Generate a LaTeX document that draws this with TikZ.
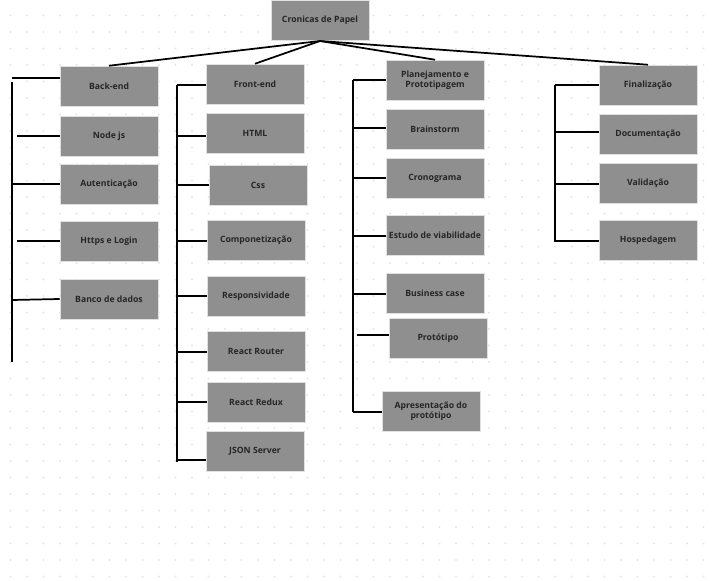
\documentclass[tikz,border=0pt]{standalone}
\usepackage{fontspec}
\setmainfont{Open Sans}
\tikzset{
  box/.style={draw=black!12,fill=black!44,minimum width=73.5pt,minimum height=30pt,inner sep=1pt,
    font=\fontsize{6.5}{7.5}\selectfont\bfseries,align=center,text=black!85},
  link/.style={line width=1.3pt},
}
\begin{document}
\begin{tikzpicture}[x=0.75pt,y=-0.75pt]
  \useasboundingbox (0,0) rectangle (714,581);
  \foreach \x in {0,...,42} \foreach \y in {1,...,35}
    \fill[black!10] (10.5+\x*16.5,\y*16.5-1) circle (0.8pt);
  % root
  \node[box] (root) at (320,20) {Cronicas de Papel};
  % back-end
  \node[box] (back) at (109,86) {Back-end};
  \node[box] (node) at (109,136) {Node js};
  \node[box] (auth) at (109,184) {Autenticação};
  \node[box] (https) at (109,241) {Https e Login};
  \node[box] (bd) at (109,299) {Banco de dados};
  % front-end
  \node[box] (front) at (255,84) {Front-end};
  \node[box] (html) at (255,133) {HTML};
  \node[box] (css) at (258,185) {Css};
  \node[box] (comp) at (256,240) {Componetização};
  \node[box] (resp) at (256,296) {Responsividade};
  \node[box] (router) at (256,351) {React Router};
  \node[box] (redux) at (256,402) {React Redux};
  \node[box] (json) at (255,451) {JSON Server};
  % planejamento
  \node[box] (plan) at (435,80) {Planejamento e\\Prototipagem};
  \node[box] (brain) at (435,129) {Brainstorm};
  \node[box] (crono) at (435,178) {Cronograma};
  \node[box] (estudo) at (435,235) {Estudo de viabilidade};
  \node[box] (bcase) at (435,293) {Business case};
  \node[box] (proto) at (438,338) {Protótipo};
  \node[box] (apres) at (431,411) {Apresentação do\\protótipo};
  % finalizacao
  \node[box] (fin) at (648,85) {Finalização};
  \node[box] (doc) at (648,134) {Documentação};
  \node[box] (valid) at (648,183) {Validação};
  \node[box] (hosp) at (648,240) {Hospedagem};

  \coordinate (top) at (320,41);
  \draw[link] (top) -- (back.north);
  \draw[link] (top) -- (front.north);
  \draw[link] (top) -- (plan.north);
  \draw[link] (top) -- (fin.north);

  % spines
  \draw[link] (12,82) -- (12,362);
  \draw[link] (177,85) -- (177,462);
  \draw[link] (353,80) -- (353,412);
  \draw[link] (555,85) -- (555,242);

  \draw[link] (12,78) -- (back.west |- 0,78);
  \draw[link] (17,136) -- (node.west);
  \draw[link] (12,184) -- (auth.west);
  \draw[link] (17,241) -- (https.west);
  \draw[link] (12,300) -- (bd.west);

  \foreach \n/\y in {front/85,html/136,css/185,comp/241,resp/296,router/352,redux/402,json/460}
    \draw[link] (177,\y) -- (\n.west |- 0,\y);
  \foreach \n/\y in {plan/80,brain/128,crono/178,estudo/236,bcase/294,apres/412}
    \draw[link] (353,\y) -- (\n.west |- 0,\y);
  \draw[link] (357,335) -- (proto.west |- 0,335);
  \foreach \n/\y in {fin/85,doc/132,valid/184,hosp/241}
    \draw[link] (555,\y) -- (\n.west |- 0,\y);
\end{tikzpicture}
\end{document}
